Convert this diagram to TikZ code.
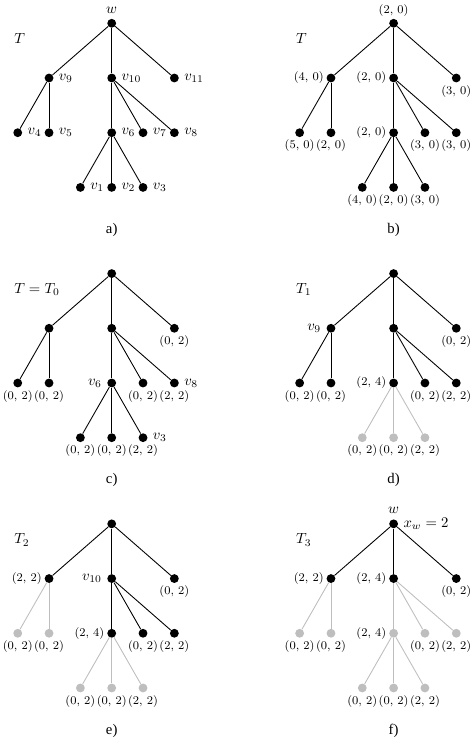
\documentclass[tikz,border=0pt]{standalone}
\usepackage{fontspec}
\newfontfamily\capfont{Liberation Serif}
\usepackage{xcolor}
\definecolor{cInk}{HTML}{000000}
\definecolor{cFade}{HTML}{BEBEBE}
\usepackage{tikz}
\usetikzlibrary{positioning}
\tikzset{
  dot/.style={circle,fill=cInk,inner sep=0pt,minimum size=6pt},
  dot-fade/.style={fill=cFade,every label/.append style={text=cFade}},
  edge/.style={line width=0.6pt,draw=cInk},
  edge-fade/.style={draw=cFade},
  pair/.style={font=\footnotesize,inner sep=1.6pt},
  panel-title/.style={anchor=base west,inner sep=0pt},
  panel-tag/.style={font=\capfont,inner sep=0pt},
}
% one tree per panel: nodes get the panel prefix, looks come from n-*/e-* styles
\newcommand{\placetree}[1]{%
  \foreach \n/\x/\y in {w/0/0,v9/-2/-1,v10/0/-1,v11/2/-1,v4/-3/-2,v5/-2/-2,%
      v6/0/-2,v7/1/-2,v8/2/-2,v1/-1/-3,v2/0/-3,v3/1/-3}
    \node[dot,n-\n/.try] (#1-\n) at (\x,\y) {};
  \foreach \p/\c in {w/v9,w/v10,w/v11,v9/v4,v9/v5,v10/v6,v10/v7,v10/v8,%
      v6/v1,v6/v2,v6/v3}
    \draw[edge,e-\c/.try] (#1-\p) -- (#1-\c);
}

\begin{document}
\begin{tikzpicture}[x=21.3pt,y=37.2pt]
  \useasboundingbox (-75.96pt,15.84pt) rectangle (246.36pt,-490.08pt);

  % a) the tree T
  \begin{scope}[
    n-w/.style={label=above:$w$},
    n-v9/.style={label=right:$v_9$},
    n-v10/.style={label=right:$v_{10}$},
    n-v11/.style={label=right:$v_{11}$},
    n-v4/.style={label=right:$v_4$},
    n-v5/.style={label=right:$v_5$},
    n-v6/.style={label=right:$v_6$},
    n-v7/.style={label=right:$v_7$},
    n-v8/.style={label=right:$v_8$},
    n-v1/.style={label=right:$v_1$},
    n-v2/.style={label=right:$v_2$},
    n-v3/.style={label=right:$v_3$}]
    \placetree{a}
    \node[panel-title] (a-title) at (-3.12,-0.366) {$T$};
    \node[panel-tag] (a-tag) at (0,-3.78) {a)};
  \end{scope}

  % b) initial pairs
  \begin{scope}[shift={(9,0)},
    n-w/.style={label={[pair]above:(2, 0)}},
    n-v9/.style={label={[pair]left:(4, 0)}},
    n-v10/.style={label={[pair]left:(2, 0)}},
    n-v11/.style={label={[pair]below:(3, 0)}},
    n-v4/.style={label={[pair]below:(5, 0)}},
    n-v5/.style={label={[pair]below:(2, 0)}},
    n-v6/.style={label={[pair]left:(2, 0)}},
    n-v7/.style={label={[pair]below:(3, 0)}},
    n-v8/.style={label={[pair]below:(3, 0)}},
    n-v1/.style={label={[pair]below:(4, 0)}},
    n-v2/.style={label={[pair]below:(2, 0)}},
    n-v3/.style={label={[pair]below:(3, 0)}}]
    \placetree{b}
    \node[panel-title] (b-title) at (-3.12,-0.366) {$T$};
    \node[panel-tag] (b-tag) at (0,-3.78) {b)};
  \end{scope}

  % c) T = T_0
  \begin{scope}[shift={(0,-4.575)},
    n-v11/.style={label={[pair]below:(0, 2)}},
    n-v4/.style={label={[pair]below:(0, 2)}},
    n-v5/.style={label={[pair]below:(0, 2)}},
    n-v6/.style={label=left:$v_6$},
    n-v7/.style={label={[pair]below:(0, 2)}},
    n-v8/.style={label={[pair]below:(2, 2)},label=right:$v_8$},
    n-v1/.style={label={[pair]below:(0, 2)}},
    n-v2/.style={label={[pair]below:(0, 2)}},
    n-v3/.style={label={[pair]below:(2, 2)},label=right:$v_3$}]
    \placetree{c}
    \node[panel-title] (c-title) at (-3.12,-0.366) {$T = T_0$};
    \node[panel-tag] (c-tag) at (0,-3.78) {c)};
  \end{scope}

  % d) T_1
  \begin{scope}[shift={(9,-4.575)},
    n-v9/.style={label=left:$v_9$},
    n-v11/.style={label={[pair]below:(0, 2)}},
    n-v4/.style={label={[pair]below:(0, 2)}},
    n-v5/.style={label={[pair]below:(0, 2)}},
    n-v6/.style={label={[pair]left:(2, 4)}},
    n-v7/.style={label={[pair]below:(0, 2)}},
    n-v8/.style={label={[pair]below:(2, 2)}},
    n-v1/.style={dot-fade,label={[pair]below:(0, 2)}},
    n-v2/.style={dot-fade,label={[pair]below:(0, 2)}},
    n-v3/.style={dot-fade,label={[pair]below:(2, 2)}},
    e-v1/.style=edge-fade, e-v2/.style=edge-fade, e-v3/.style=edge-fade]
    \placetree{d}
    \node[panel-title] (d-title) at (-3.12,-0.366) {$T_1$};
    \node[panel-tag] (d-tag) at (0,-3.78) {d)};
  \end{scope}

  % e) T_2
  \begin{scope}[shift={(0,-9.15)},
    n-v9/.style={label={[pair]left:(2, 2)}},
    n-v10/.style={label=left:$v_{10}$},
    n-v11/.style={label={[pair]below:(0, 2)}},
    n-v4/.style={dot-fade,label={[pair]below:(0, 2)}},
    n-v5/.style={dot-fade,label={[pair]below:(0, 2)}},
    n-v6/.style={label={[pair]left:(2, 4)}},
    n-v7/.style={label={[pair]below:(0, 2)}},
    n-v8/.style={label={[pair]below:(2, 2)}},
    n-v1/.style={dot-fade,label={[pair]below:(0, 2)}},
    n-v2/.style={dot-fade,label={[pair]below:(0, 2)}},
    n-v3/.style={dot-fade,label={[pair]below:(2, 2)}},
    e-v4/.style=edge-fade, e-v5/.style=edge-fade,
    e-v1/.style=edge-fade, e-v2/.style=edge-fade, e-v3/.style=edge-fade]
    \placetree{e}
    \node[panel-title] (e-title) at (-3.12,-0.366) {$T_2$};
    \node[panel-tag] (e-tag) at (0,-3.78) {e)};
  \end{scope}

  % f) T_3
  \begin{scope}[shift={(9,-9.15)},
    n-w/.style={label={above:$w$},label={right:{$x_w = 2$}}},
    n-v9/.style={label={[pair]left:(2, 2)}},
    n-v10/.style={label={[pair]left:(2, 4)}},
    n-v11/.style={label={[pair]below:(0, 2)}},
    n-v4/.style={dot-fade,label={[pair]below:(0, 2)}},
    n-v5/.style={dot-fade,label={[pair]below:(0, 2)}},
    n-v6/.style={dot-fade,label={[pair]left:(2, 4)}},
    n-v7/.style={dot-fade,label={[pair]below:(0, 2)}},
    n-v8/.style={dot-fade,label={[pair]below:(2, 2)}},
    n-v1/.style={dot-fade,label={[pair]below:(0, 2)}},
    n-v2/.style={dot-fade,label={[pair]below:(0, 2)}},
    n-v3/.style={dot-fade,label={[pair]below:(2, 2)}},
    e-v4/.style=edge-fade, e-v5/.style=edge-fade, e-v6/.style=edge-fade,
    e-v7/.style=edge-fade, e-v8/.style=edge-fade,
    e-v1/.style=edge-fade, e-v2/.style=edge-fade, e-v3/.style=edge-fade]
    \placetree{f}
    \node[panel-title] (f-title) at (-3.12,-0.366) {$T_3$};
    \node[panel-tag] (f-tag) at (0,-3.78) {f)};
  \end{scope}
\end{tikzpicture}
\end{document}
